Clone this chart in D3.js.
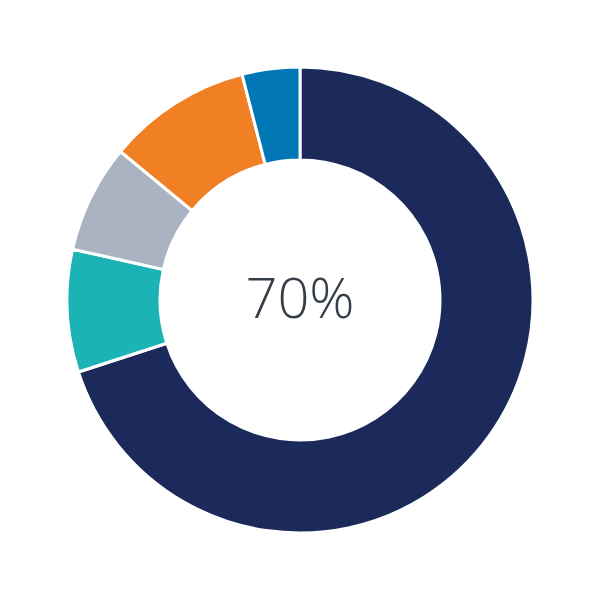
<!DOCTYPE html>
<html>
<head>
<meta charset="utf-8">
<script src="https://cdn.jsdelivr.net/npm/d3@7"></script>
<style>
  html, body { margin: 0; padding: 0; background: #fff; }
</style>
</head>
<body>
<svg id="chart"></svg>
<script>
// slices, clockwise from 12 o'clock
const categories = ['A', 'B', 'C', 'D', 'E'];
const values = [70, 8.5, 7.5, 10, 4];
const colors = ['#1b2a5a', '#1cb3b6', '#a9b3c1', '#f17f23', '#0277b5'];
const centerLabel = '70%';

const width = 600, height = 600;
const svg = d3.select('#chart').attr('width', width).attr('height', height);

const g = svg.append('g').attr('transform', `translate(${width / 2},${height / 2})`);

const pie = d3.pie().sort(null).value(d => d.value);
const arc = d3.arc().innerRadius(140).outerRadius(233);
const color = d3.scaleOrdinal(categories, colors);

const slices = pie(categories.map((c, i) => ({ name: c, value: values[i] })));

g.selectAll('path')
  .data(slices)
  .join('path')
  .attr('d', arc)
  .attr('fill', d => color(d.data.name))
  .attr('stroke', '#fff')
  .attr('stroke-width', 3)
  .attr('stroke-linejoin', 'miter');

g.append('text')
  .attr('text-anchor', 'middle')
  .attr('dy', '0.36em')
  .attr('y', -2)
  .style('font-family', '"Open Sans", sans-serif')
  .style('font-weight', 300)
  .style('font-size', '56px')
  .attr('fill', '#343d48')
  .text(centerLabel);
</script>
</body>
</html>
